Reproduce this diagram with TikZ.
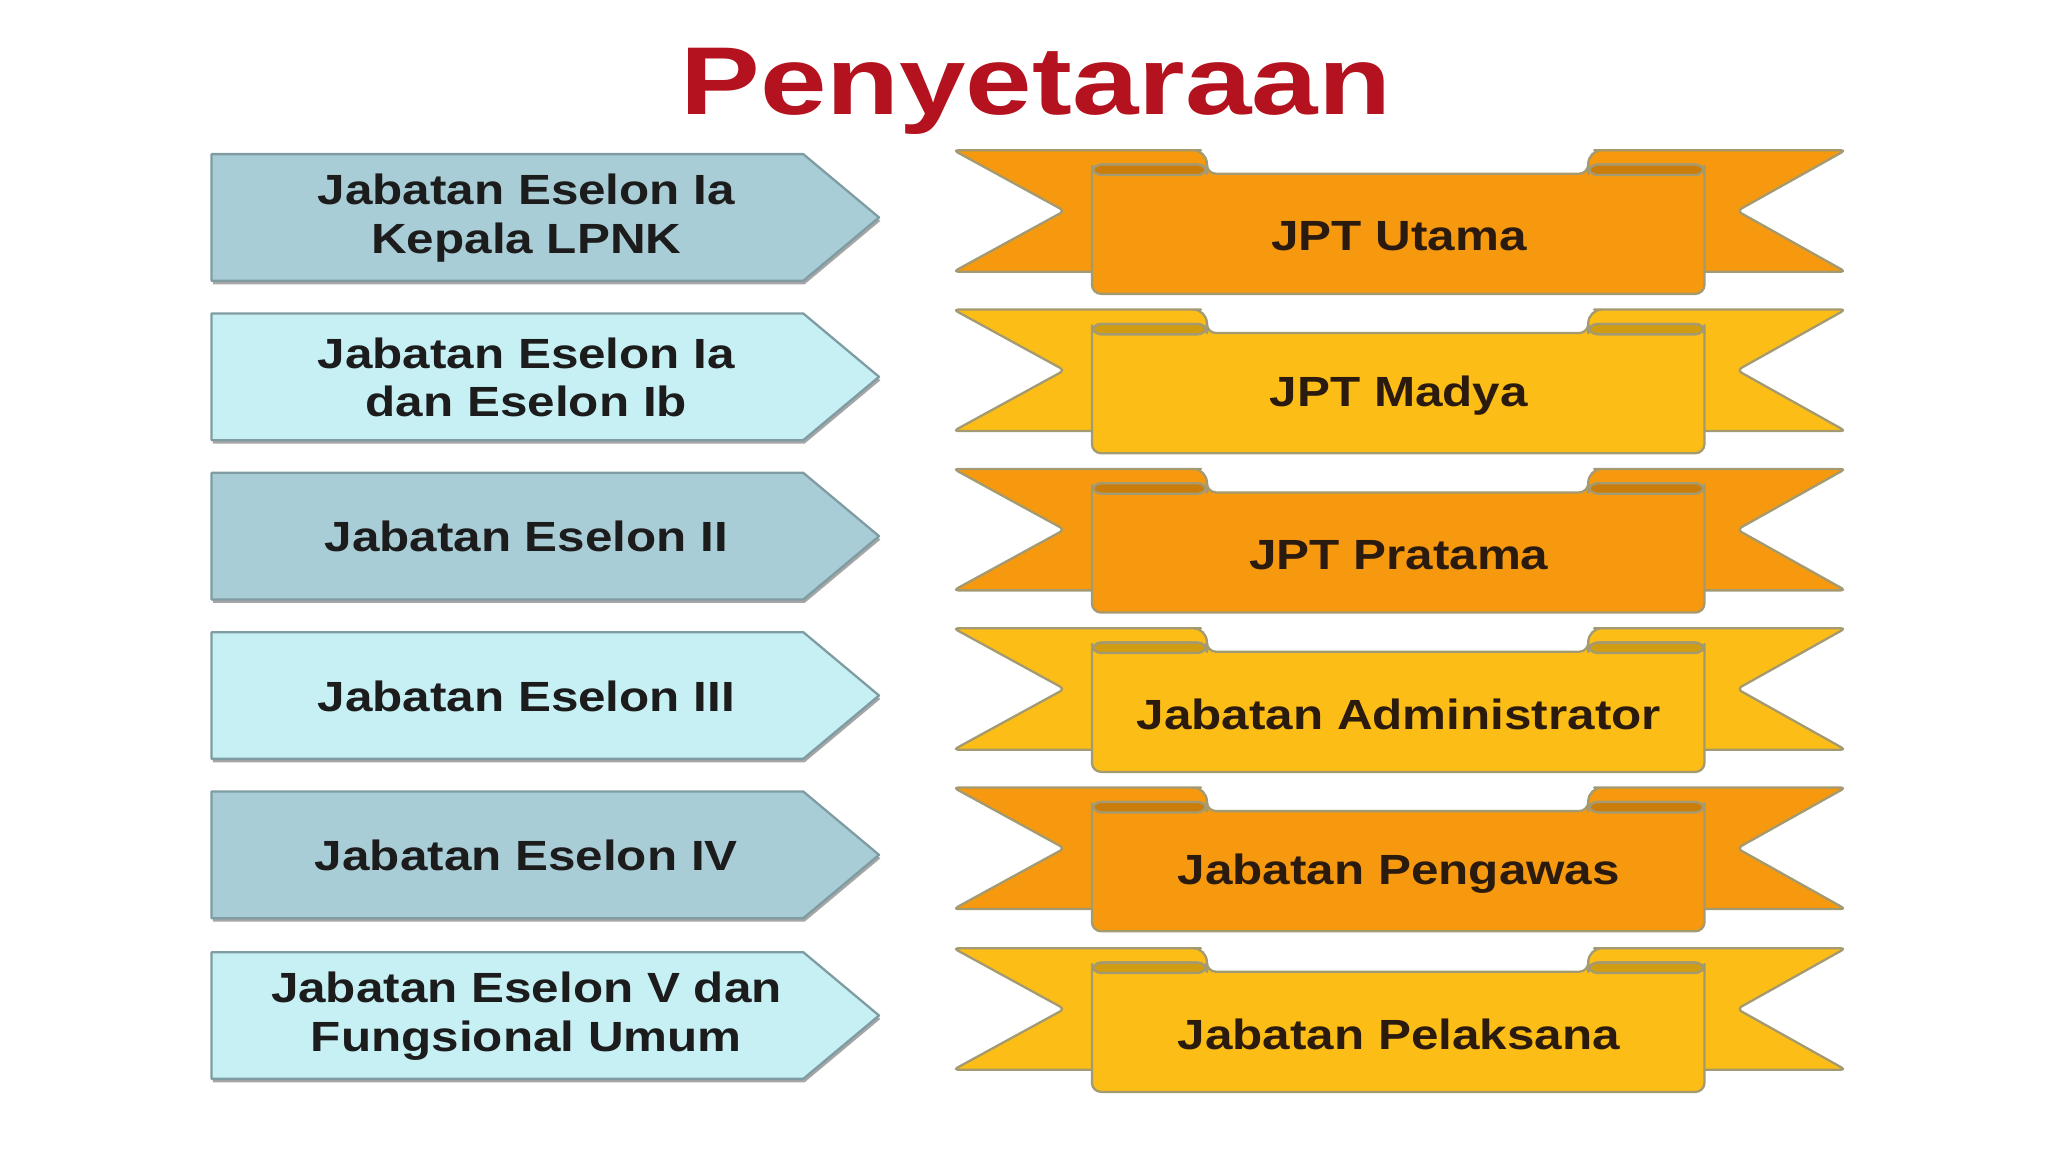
\documentclass[tikz,border=0pt]{standalone}
\usepackage{fontspec}
\setmainfont{Liberation Sans}
\newfontfamily\hurufjudul[FakeStretch=1.24]{Liberation Sans}
\newfontfamily\hurufisi[FakeStretch=1.17]{Liberation Sans}
\usetikzlibrary{shadows}

\definecolor{judul}{HTML}{B3121E}
\definecolor{biru}{HTML}{A9CDD6}
\definecolor{birumuda}{HTML}{C6F0F4}
\definecolor{garisbiru}{HTML}{7F9CA3}
\definecolor{oranye}{HTML}{F7990E}
\definecolor{kuning}{HTML}{FCBE16}
\definecolor{garispita}{HTML}{A39A72}
\definecolor{teksgelap}{HTML}{1C1C1C}
\definecolor{tekspita}{HTML}{2B1B0E}

\begin{document}
\begin{tikzpicture}[x=0.02cm,y=-0.02cm,
   teks/.style={font=\hurufisi\fontsize{18.4}{21}\selectfont\bfseries, align=center},
   panah/.style={draw=garisbiru, line width=1pt, line join=round,
      drop shadow={shadow xshift=0.6pt, shadow yshift=-1.5pt, opacity=.35, fill=black}},
   pita/.style={draw=garispita, line width=1pt, line join=round, rounded corners=2pt}]
\useasboundingbox (0,0) rectangle (1568,882);

\node[font=\hurufjudul\fontsize{42}{42}\selectfont\bfseries, text=judul, anchor=base] (judul) at (793,88) {Penyetaraan};

% kolom kiri: jabatan eselon
\foreach \i/\t/\warna/\isi in {1/118/biru/{Jabatan Eselon Ia\\Kepala LPNK},
                               2/240/birumuda/{Jabatan Eselon Ia\\dan Eselon Ib},
                               3/362/biru/{Jabatan Eselon II},
                               4/484/birumuda/{Jabatan Eselon III},
                               5/606/biru/{Jabatan Eselon IV},
                               6/729/birumuda/{Jabatan Eselon V dan\\Fungsional Umum}}{
   \filldraw[panah, fill=\warna] (162,\t) -- (615,\t) -- (673,\t+48.5) -- (615,\t+97) -- (162,\t+97) -- cycle;
   \node[teks, text=teksgelap] (eselon\i) at (403,\t+49) {\isi};
}

% kolom kanan: pita
\foreach \i/\r/\warna/\isi in {1/115/oranye/{JPT Utama},
                               2/237/kuning/{JPT Madya},
                               3/359/oranye/{JPT Pratama},
                               4/481/kuning/{Jabatan Administrator},
                               5/603/oranye/{Jabatan Pengawas},
                               6/726/kuning/{Jabatan Pelaksana}}{
   \filldraw[pita, fill=\warna] (730,\r) -- (916,\r) {[rounded corners=6pt] -- (924,\r) -- (924,\r+20)} -- (924,\r+93) -- (730,\r+93) -- (815,\r+46.5) -- cycle;
   \filldraw[pita, fill=\warna] (1413,\r) -- (1224,\r) {[rounded corners=6pt] -- (1216,\r) -- (1216,\r+20)} -- (1216,\r+93) -- (1413,\r+93) -- (1330,\r+46.5) -- cycle;
   \filldraw[pita, fill=\warna, rounded corners=4pt] (836,\r+110) -- (836,\r+11) -- (924,\r+11) -- (924,\r+18)
      -- (1216,\r+18) -- (1216,\r+11) -- (1305,\r+11) -- (1305,\r+110) -- cycle;
   \filldraw[pita, fill=\warna!82!black, rounded corners=4pt] (836,\r+11) rectangle (924,\r+19);
   \filldraw[pita, fill=\warna!82!black, rounded corners=4pt] (1216,\r+11) rectangle (1305,\r+19);
   \node[teks, text=tekspita] (jpt\i) at (1071,\r+66) {\isi};
}
\end{tikzpicture}
\end{document}
